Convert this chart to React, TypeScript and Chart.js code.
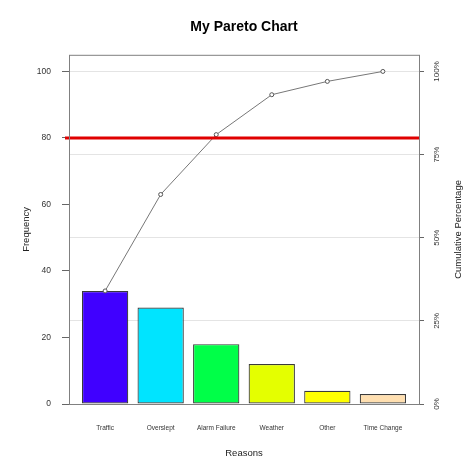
import { useEffect, useRef } from "react";
import { Chart, registerables } from "chart.js";

Chart.register(...registerables);

// -------------------- Datos --------------------
const reasons = ["Traffic", "Overslept", "Alarm Failure", "Weather", "Other", "Time Change"];
const frequency = [34, 29, 18, 12, 4, 3];
const barColors = ["#4000ff", "#00e4ff", "#00ff48", "#e4ff00", "#ffff00", "#ffdfb0"];
const freqTicks = [0, 20, 40, 60, 80, 100];
const pctTicks = [0, 25, 50, 75, 100];
const threshold = 80;

const total = frequency.reduce((a, b) => a + b, 0);
let run = 0;
const cumPct = frequency.map(v => { run += v; return (run / total) * 100; });

const FONT = "'Liberation Sans', Arial, Helvetica, sans-serif";

// caja alrededor del área de gráfico + línea roja + eje derecho girado
const extras = {
  id: "extras",
  afterDatasetsDraw(chart: any) {
    const { ctx, chartArea: a, scales } = chart;
    ctx.save();
    // línea umbral
    const yy = scales.y.getPixelForValue(threshold);
    ctx.strokeStyle = "#e00000";
    ctx.lineWidth = 3;
    ctx.beginPath();
    ctx.moveTo(a.left - 4, yy);
    ctx.lineTo(a.right, yy);
    ctx.stroke();
    // caja
    ctx.strokeStyle = "#808080";
    ctx.lineWidth = 1;
    ctx.strokeRect(a.left + 0.5, a.top + 0.5, a.right - a.left, a.bottom - a.top);
    // etiquetas del eje derecho (lectura de abajo hacia arriba)
    ctx.fillStyle = "#333";
    ctx.font = `8px ${FONT}`;
    ctx.textAlign = "center";
    ctx.textBaseline = "middle";
    pctTicks.forEach(p => {
      const py = scales.yPct.getPixelForValue(p);
      ctx.save();
      ctx.translate(a.right + 18, py);
      ctx.rotate(-Math.PI / 2);
      ctx.fillText(p + "%", 0, 0);
      ctx.restore();
    });
    ctx.font = `9.5px ${FONT}`;
    ctx.fillStyle = "#222";
    ctx.save();
    ctx.translate(a.right + 39, (a.top + a.bottom) / 2);
    ctx.rotate(-Math.PI / 2);
    ctx.fillText("Cumulative Percentage", 0, 0);
    ctx.restore();
    ctx.restore();
  },
};

export default function App() {
  const canvasRef = useRef<HTMLCanvasElement | null>(null);
  const chartRef = useRef<Chart | null>(null);

  useEffect(() => {
    if (!canvasRef.current) return;
    chartRef.current?.destroy();

    const xy = (arr: number[]) => arr.map((v, i) => ({ x: i, y: v }));

    chartRef.current = new Chart(canvasRef.current, {
      type: "bar",
      data: {
        datasets: [
          {
            type: "bar",
            data: xy(frequency),
            backgroundColor: barColors,
            borderColor: "#3a3a3a",
            borderWidth: 1.2,
            borderSkipped: false,
            barPercentage: 1 / 1.2,
            categoryPercentage: 1,
            yAxisID: "y",
            order: 3,
          } as any,
          {
            type: "line",
            data: xy(cumPct),
            yAxisID: "yPct",
            borderColor: "#777",
            borderWidth: 1,
            pointRadius: 2,
            pointBackgroundColor: "#fff",
            pointBorderColor: "#555",
            pointBorderWidth: 1,
            tension: 0,
            order: 1,
          } as any,
        ],
      },
      options: {
        animation: false,
        responsive: false,
        layout: { padding: 0 },
        plugins: {
          legend: { display: false },
          tooltip: { enabled: false },
          title: {
            display: true,
            text: "My Pareto Chart",
            fullSize: false,
            color: "#000",
            font: { family: FONT, size: 14, weight: "bold" },
            padding: { top: 19, bottom: 19 },
          },
        },
        scales: {
          x: {
            type: "linear",
            position: "bottom",
            offset: false,
            min: -0.65,
            max: reasons.length - 1 + 0.65,
            grid: { display: false, drawTicks: false, offset: false },
            border: { display: false },
            afterBuildTicks: (s: any) => { s.ticks = reasons.map((_, i) => ({ value: i })); },
            afterFit: (s: any) => { s.height = 70; },
            ticks: {
              autoSkip: false,
              maxRotation: 0,
              padding: 20,
              color: "#333",
              font: { family: FONT, size: 6.5 },
              callback: (v: any) => reasons[v as number] ?? "",
            },
            title: {
              display: true,
              text: "Reasons",
              color: "#222",
              font: { family: FONT, size: 9.5 },
              padding: { bottom: 15 },
            },
          },
          y: {
            position: "left",
            min: 0,
            max: 105,
            grid: { drawOnChartArea: false, tickLength: 7, tickColor: "#666" },
            border: { display: false },
            afterBuildTicks: (s: any) => { s.ticks = freqTicks.map(v => ({ value: v })); },
            afterFit: (s: any) => { s.width = 69; },
            ticks: { padding: 11, color: "#333", font: { family: FONT, size: 8.5 } },
            title: {
              display: true,
              text: "Frequency",
              color: "#222",
              font: { family: FONT, size: 9.5 },
              padding: { top: 21 },
            },
          },
          yPct: {
            position: "right",
            min: 0,
            max: (105 * 100) / total,
            grid: { drawOnChartArea: true, color: "#e4e4e4", tickLength: 5, tickColor: "#666" },
            border: { display: false },
            afterBuildTicks: (s: any) => { s.ticks = pctTicks.map(v => ({ value: v })); },
            afterFit: (s: any) => { s.width = 55; },
            ticks: { display: false },
          },
        },
      },
      plugins: [extras],
    });

    return () => {
      chartRef.current?.destroy();
      chartRef.current = null;
    };
  }, []);

  return (
    <div style={{ position: "fixed", left: 0, top: 0, width: 474, height: 474, background: "#fff" }}>
      <canvas ref={canvasRef} width={474} height={474} style={{ width: 474, height: 474 }} />
    </div>
  );
}
